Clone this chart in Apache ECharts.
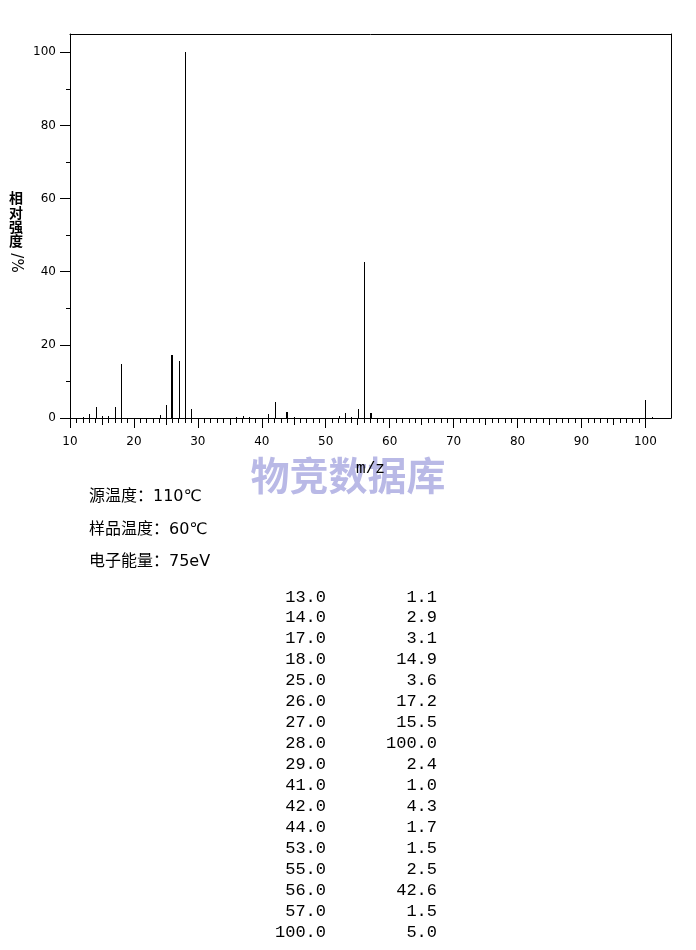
<!DOCTYPE html>
<html><head><meta charset="utf-8">
<script src="https://cdn.jsdelivr.net/npm/echarts@6/dist/echarts.min.js"></script>
<style>html,body{margin:0;padding:0;background:#fff}#chart{width:696px;height:950px}</style>
</head><body><div id="chart"></div>
<script>
// ---- data ----
const mzValues    = [12, 13, 14, 15, 16, 17, 18, 24, 25, 26, 27, 28, 29, 36, 37, 38, 41, 42, 44, 45, 52, 53, 54, 55, 56, 57, 100, 101];
const intensities = [0.4, 1.1, 2.9, 0.6, 0.5, 3.1, 14.9, 0.9, 3.6, 17.2, 15.5, 100.0, 2.4, 0.3, 0.5, 0.4, 1.0, 4.3, 1.7, 0.3, 0.5, 1.5, 0.3, 2.5, 42.6, 1.5, 5.0, 0.3];
const xMajorTicks = [10, 20, 30, 40, 50, 60, 70, 80, 90, 100];
const xMidTicks   = [15, 25, 35, 45, 55, 65, 75, 85, 95];
const yMajorTicks = [0, 20, 40, 60, 80, 100];
const yMinorTicks = [10, 30, 50, 70, 90];
const xAxisTitle  = 'm/z';
const yAxisTitle  = ['相', '对', '强', '度'];
const yAxisUnit   = '/%';
const infoLines   = ['源温度：110℃', '样品温度：60℃', '电子能量：75eV'];
const watermark   = '物竞数据库';

// ---- derived ----
const xMinorTicks = [];
for (let v = 11; v < 100; v++) if (v % 5 !== 0) xMinorTicks.push(v);
const peaks = mzValues.map((m, i) => [m, intensities[i]]);
const tableRows = peaks.filter(p => p[1] >= 1.0);

// ---- style ----
const boldMz = new Set([26, 44, 57]);
const X_MIN = 10, X_MAX = 104, Y_MIN = 0, Y_MAX = 105;
const labelFont = {color: '#000', fontFamily: 'DejaVu Sans', fontSize: 12};
const black = {color: '#000', width: 1};

function xAx(extra) {
  return Object.assign({type: 'value', min: X_MIN, max: X_MAX, position: 'bottom',
    splitLine: {show: false}, axisLine: {show: false, onZero: false},
    axisTick: {show: false}, axisLabel: {show: false}}, extra);
}
function yAx(extra) {
  return Object.assign({type: 'value', min: Y_MIN, max: Y_MAX, position: 'left',
    splitLine: {show: false}, axisLine: {show: false, onZero: false},
    axisTick: {show: false}, axisLabel: {show: false}}, extra);
}
function txt(x, y, text, font, align, vAlign, extra) {
  return Object.assign({type: 'text', x: x, y: y,
    style: {text: text, font: font, fill: '#000', align: align, verticalAlign: vAlign,
      textAlign: align, textVerticalAlign: vAlign}}, extra || {});
}

const graphics = [];
const wm = txt(348, 475, watermark, 'bold 39px "Noto Sans CJK SC"', 'center', 'middle', {z: -5});
wm.style.fill = 'rgba(100,100,200,0.45)';
graphics.push(wm);
yAxisTitle.forEach((c, i) => {
  graphics.push(txt(16, 198 + i * 14.3, c, 'bold 14px "Noto Sans CJK SC"', 'center', 'middle'));
});
graphics.push(txt(16, 263, yAxisUnit, '15px "DejaVu Sans"', 'center', 'middle', {rotation: -Math.PI / 2}));
infoLines.forEach((t, i) => {
  graphics.push(txt(89, 497 + i * 32.5, t, '16px "DejaVu Sans", "Noto Sans CJK SC"', 'left', 'middle'));
});
tableRows.forEach((r, i) => {
  const y = 597 + i * 20.94;
  graphics.push(txt(326, y, r[0].toFixed(1), '17px "Liberation Mono"', 'right', 'middle'));
  graphics.push(txt(437, y, r[1].toFixed(1), '17px "Liberation Mono"', 'right', 'middle'));
});

const chart = echarts.init(document.getElementById('chart'), null, {renderer: 'canvas'});
chart.setOption({
  backgroundColor: '#fff',
  animation: false,
  grid: {left: 70, right: 25, top: 34, bottom: 532, containLabel: false},
  xAxis: [
    xAx({axisLine: {show: true, onZero: false, lineStyle: black},
      axisTick: {show: true, length: 10, lineStyle: black, customValues: xMajorTicks},
      axisLabel: Object.assign({show: true, margin: 18, customValues: xMajorTicks}, labelFont),
      name: xAxisTitle, nameLocation: 'middle', nameGap: 43,
      nameTextStyle: {color: '#000', fontFamily: 'Liberation Mono', fontSize: 16}}),
    xAx({axisTick: {show: true, length: 7, lineStyle: black, customValues: xMidTicks}}),
    xAx({axisTick: {show: true, length: 5, lineStyle: black, customValues: xMinorTicks}}),
    xAx({position: 'top', axisLine: {show: true, onZero: false, lineStyle: black}})
  ],
  yAxis: [
    yAx({axisLine: {show: true, onZero: false, lineStyle: black},
      axisTick: {show: true, length: 10, lineStyle: black, customValues: yMajorTicks},
      axisLabel: Object.assign({show: true, margin: 14, customValues: yMajorTicks}, labelFont)}),
    yAx({axisTick: {show: true, length: 4, lineStyle: black, customValues: yMinorTicks}}),
    yAx({position: 'right', axisLine: {show: true, onZero: false, lineStyle: black}})
  ],
  series: [{
    type: 'custom',
    xAxisIndex: 0, yAxisIndex: 0,
    data: peaks,
    encode: {x: 0, y: 1},
    renderItem: function (params, api) {
      const x = api.value(0), y = api.value(1);
      const p0 = api.coord([x, 0]);
      const p1 = api.coord([x, y]);
      const w = boldMz.has(x) ? 2 : 1;
      const px = w === 1 ? Math.round(p0[0]) + 0.5 : Math.round(p0[0]);
      return {type: 'line', shape: {x1: px, y1: Math.round(p0[1]), x2: px, y2: Math.round(p1[1])},
        style: {stroke: '#000', lineWidth: w}};
    }
  }],
  graphic: graphics
});
</script></body></html>
